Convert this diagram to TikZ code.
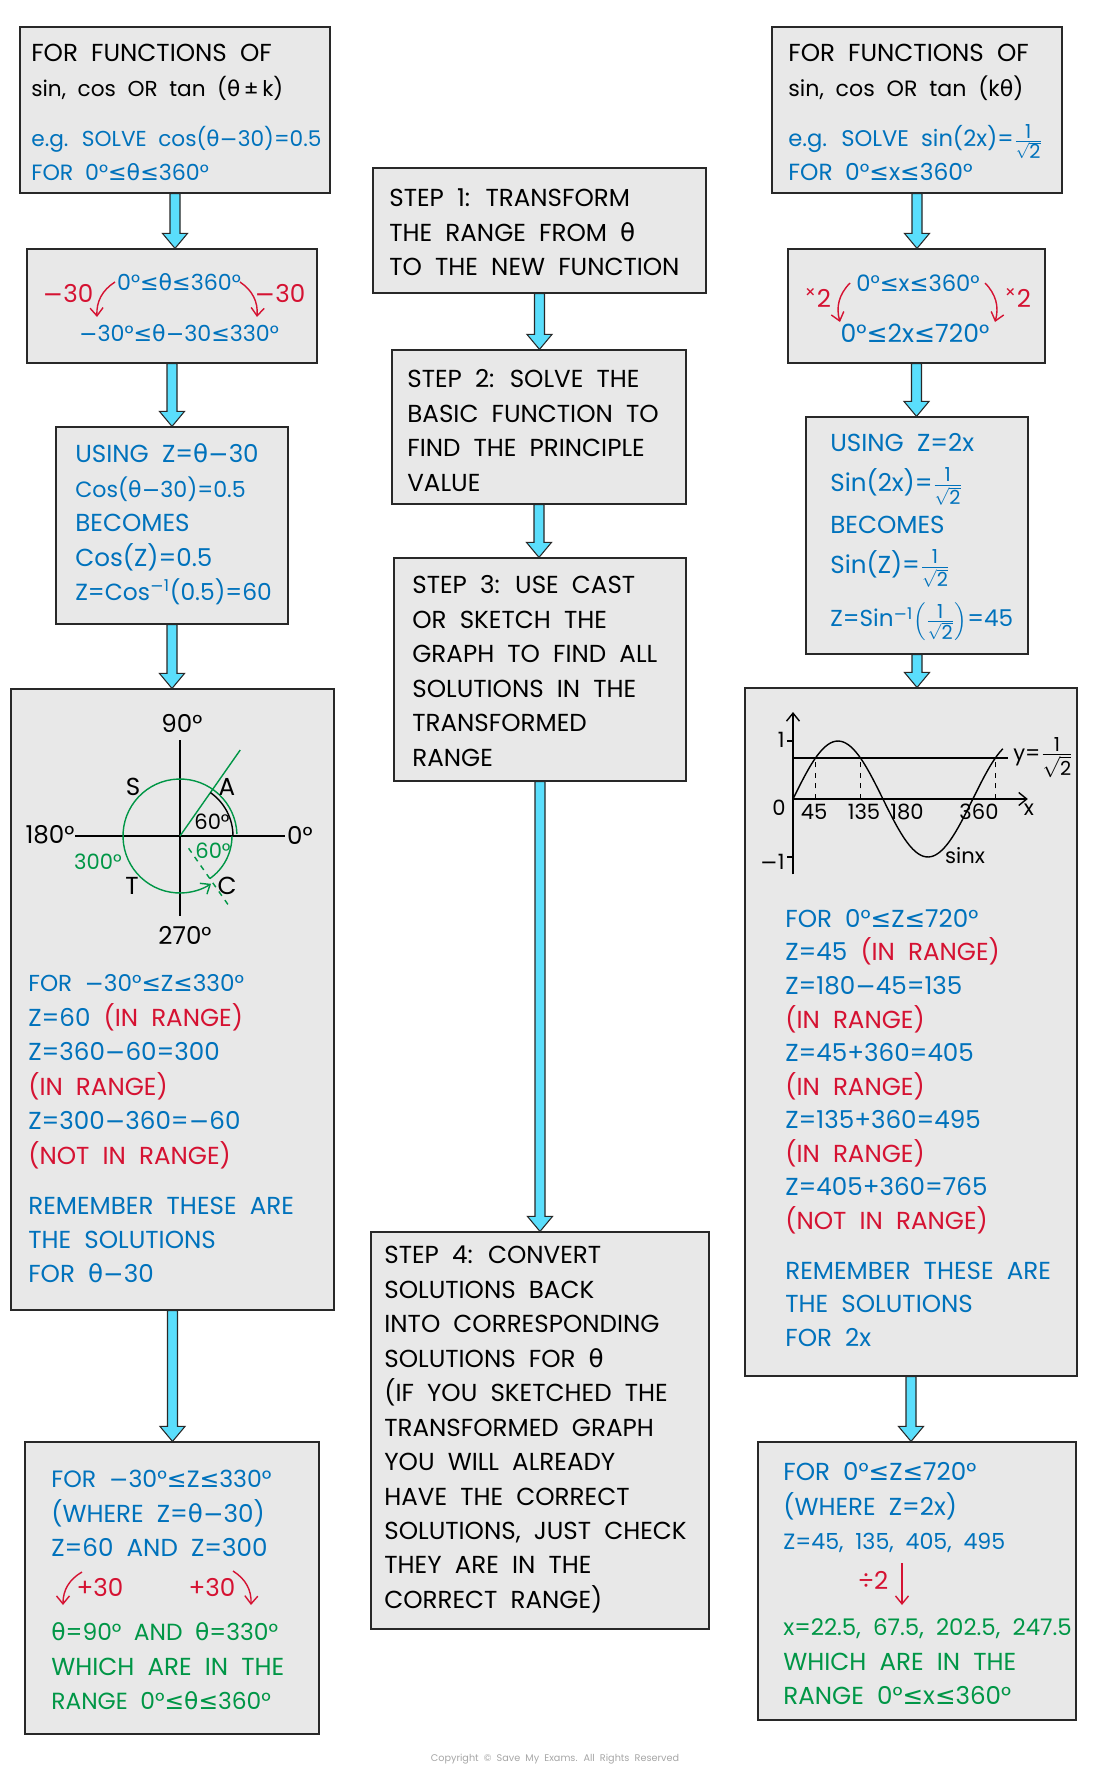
\documentclass[tikz,border=0pt]{standalone}
\usepackage{amsmath}
\usepackage{fontspec}
\setmainfont[WordSpace=2]{Poppins}
\newfontfamily\symfont{DejaVu Sans}
\usetikzlibrary{%
  arrows.meta,%
  calc,% wg. let
  positioning%
}

\definecolor{txtblue}{RGB}{0,114,188}
\definecolor{txtred}{RGB}{213,18,50}
\definecolor{txtgreen}{RGB}{0,150,70}
\definecolor{boxgray}{RGB}{232,232,232}
\definecolor{boxline}{RGB}{40,40,40}
\definecolor{arrowcyan}{RGB}{90,222,252}

\newcommand{\thet}{{\symfont θ}}
\newcommand{\lte}{{\symfont ≤}}
\newcommand{\mn}{{\symfont −}}
\newcommand{\fd}[1]{\text{\fontsize{11}{11}\selectfont #1}}
\newcommand{\rtwo}{$\tfrac{\fd{1}}{\sqrt{\fd{2}}}$}
\newcommand{\rd}[1]{\textcolor{txtred}{#1}}
\newcommand{\bl}[1]{\textcolor{txtblue}{#1}}
% narrower line: smaller size, same baseline skip
\newcommand{\cq}[2][0.9]{{\fontsize{\fpeval{14*#1}}{19.6}\selectfont #2}}

% fat cyan arrow from box to box
\newcommand{\flowarrow}[2]{%
  \draw[fatarrow] let \p1=(#1.south), \p2=(#2.north) in
    (\x1-0.1cm,\y1) -- (\x1-0.1cm,\y2+0.3cm) -- (\x1-0.25cm,\y2+0.3cm) -- (\x1,\y2)
    -- (\x1+0.25cm,\y2+0.3cm) -- (\x1+0.1cm,\y2+0.3cm) -- (\x1+0.1cm,\y1) -- cycle;}

\begin{document}
\begin{tikzpicture}
[x=0.02cm, y=-0.02cm,
panel/.style={draw=boxline, fill=boxgray, line width=0.7pt, inner sep=0pt},
txt/.style={anchor=north west, inner sep=0pt, align=left, font={\fontsize{14}{19.6}\selectfont\lineskiplimit=-30pt}},
lbl/.style={inner sep=0pt, font=\fontsize{14}{16}\selectfont},
smalllbl/.style={inner sep=0pt, font=\fontsize{12}{14}\selectfont},
fatarrow/.style={draw=boxline, fill=arrowcyan, line width=0.6pt, line join=miter},
redarrow/.style={draw=txtred, line width=0.8pt, -{Straight Barb[length=1.6mm,width=2.6mm]}},
greenline/.style={draw=txtgreen, line width=0.8pt},
axisline/.style={draw=black, line width=0.8pt}]

\fill[white] (0,0) rectangle (1100,1784);
\useasboundingbox (0,0) rectangle (1100,1784);

% left column: theta +- k
\node[panel, minimum width=6.2cm, minimum height=3.32cm] (l1) at (175,110) {};
\node[txt, text=black] (l1txt) at (31,37.5) {\strut FOR FUNCTIONS OF\\ \cq[0.88]{sin, cos OR tan (\thet\,±\,k)}\\[0.31cm]
  \bl{\cq[0.88]{e.g. SOLVE cos(\thet\mn30)=0.5}}\\ \bl{\cq{FOR 0°\lte\thet\lte360°}}};

\node[panel, minimum width=5.8cm, minimum height=2.28cm] (l2) at (172,306) {};
\node[lbl, text=txtblue] (l2top) at (179,282) {\cq[0.9]{0°\lte\thet\lte360°}};
\node[lbl, text=txtblue] (l2bot) at (179,333) {\cq[0.9]{\mn30°\lte\thet\mn30\lte330°}};
\node[lbl, text=txtred] (l2left) at (68,293) {\mn30};
\node[lbl, text=txtred] (l2right) at (280,293) {\mn30};
\coordinate (l2a) at (115,282); \coordinate (l2b) at (97,317);
\coordinate (l2c) at (240,282); \coordinate (l2d) at (257,317);
\draw[redarrow] (l2a) to[bend right=30] (l2b);
\draw[redarrow] (l2c) to[bend left=30] (l2d);

\node[panel, minimum width=4.64cm, minimum height=3.94cm] (l3) at (172,525.5) {};
\node[txt, text=txtblue] (l3txt) at (75,438.5) {\strut USING Z=\thet\mn30\\ \cq[0.9]{Cos(\thet\mn30)=0.5}\\ BECOMES\\
  Cos(Z)=0.5\\ \cq[0.95]{Z=Cos\textsuperscript{\mn1}(0.5)=60}};

\node[panel, minimum width=6.46cm, minimum height=12.42cm] (l4) at (172.5,999.5) {};
\begin{scope}[shift={(180,836)}]
  \draw[axisline] (-2.1cm,0) -- (2.1cm,0);
  \draw[axisline] (0,1.92cm) -- (0,-1.6cm);
  \draw[greenline, -{Straight Barb[length=1.6mm,width=2.6mm]}] (2:1.14cm) arc[start angle=2, end angle=303, radius=1.14cm];
  \draw[greenline] (0,0) -- (55:2.1cm);
  \draw[greenline, dashed] (-55:0.3cm) -- (-55:1.7cm);
  \draw[axisline] (0:1.06cm) arc[start angle=0, end angle=55, radius=1.06cm];
  \draw[greenline] (0:1.04cm) arc[start angle=0, end angle=-55, radius=1.04cm];
\end{scope}
\node[lbl] (deg90) at (182,723) {90°};
\node[lbl] (deg180) at (50,835) {180°};
\node[lbl] (deg0) at (300,835) {0°};
\node[lbl] (deg270) at (185,935) {270°};
\node[lbl] (qs) at (133,787) {S};
\node[lbl] (qa) at (227,787) {A};
\node[lbl] (qt) at (132,886) {T};
\node[lbl] (qc) at (227,886) {C};
\node[smalllbl] (ang1) at (212,822) {60°};
\node[smalllbl, text=txtgreen] (ang2) at (213,851) {60°};
\node[smalllbl, text=txtgreen] (ang300) at (98,862) {300°};
\node[txt, text=txtblue] (l4txt) at (28,967.5) {\strut \cq[0.94]{FOR \mn30°\lte Z\lte330°}\\ Z=60 \rd{(IN RANGE)}\\ Z=360\mn60=300\\
  \rd{(IN RANGE)}\\ Z=300\mn360=\mn60\\ \rd{(NOT IN RANGE)}\\[0.31cm] REMEMBER THESE ARE\\ THE SOLUTIONS\\ FOR \thet\mn30};

\node[panel, minimum width=5.88cm, minimum height=5.84cm] (l5) at (172,1588) {};
\node[txt, text=txtblue] (l5top) at (51,1463.5) {\strut \cq[0.96]{FOR \mn30°\lte Z\lte330°}\\ (WHERE Z=\thet\mn30)\\ Z=60 AND Z=300};
\node[lbl, text=txtred] (l5p1) at (100,1587) {+30};
\node[lbl, text=txtred] (l5p2) at (212,1587) {+30};
\coordinate (l5a) at (82,1572); \coordinate (l5b) at (63,1605);
\coordinate (l5c) at (233,1571); \coordinate (l5d) at (251,1605);
\draw[redarrow] (l5a) to[bend right=30] (l5b);
\draw[redarrow] (l5c) to[bend left=30] (l5d);
\node[txt, text=txtgreen] (l5bot) at (51,1616.5) {\strut \cq[0.95]{\thet=90° AND \thet=330°}\\ WHICH ARE IN THE\\ \cq[0.95]{RANGE 0°\lte\thet\lte360°}};

% middle column: steps
\node[panel, minimum width=6.66cm, minimum height=2.5cm] (m1) at (539.5,230.5) {};
\node[txt] (m1txt) at (389,182.5) {\strut STEP 1: TRANSFORM\\ THE RANGE FROM \thet\\ TO THE NEW FUNCTION};
\node[panel, minimum width=5.88cm, minimum height=3.08cm] (m2) at (539,427) {};
\node[txt] (m2txt) at (407,363.5) {\strut STEP 2: SOLVE THE\\ BASIC FUNCTION TO\\ FIND THE PRINCIPLE\\ VALUE};
\node[panel, minimum width=5.84cm, minimum height=4.46cm] (m3) at (540,669.5) {};
\node[txt] (m3txt) at (412,569.5) {\strut STEP 3: USE CAST\\ OR SKETCH THE\\ GRAPH TO FIND ALL\\ SOLUTIONS IN THE\\ TRANSFORMED\\ RANGE};
\node[panel, minimum width=6.76cm, minimum height=7.94cm] (m4) at (540,1430.5) {};
\node[txt] (m4txt) at (384,1239.5) {\strut STEP 4: CONVERT\\ SOLUTIONS BACK\\ INTO CORRESPONDING\\ SOLUTIONS FOR \thet\\
  (IF YOU SKETCHED THE\\ TRANSFORMED GRAPH\\ YOU WILL ALREADY\\ HAVE THE CORRECT\\ SOLUTIONS, JUST CHECK\\
  THEY ARE IN THE\\ CORRECT RANGE)};

% right column: k theta
\node[panel, minimum width=5.8cm, minimum height=3.32cm] (r1) at (917,110) {};
\node[txt, text=black] (r1txt) at (788,37.5) {\strut FOR FUNCTIONS OF\\ \cq[0.9]{sin, cos OR tan (k\thet)}\\[0.31cm]
  \bl{\cq[0.92]{e.g. SOLVE sin(2x)=\rtwo}}\\ \bl{\cq[0.95]{FOR 0°\lte x\lte360°}}};

\node[panel, minimum width=5.14cm, minimum height=2.28cm] (r2) at (916.5,306) {};
\node[lbl, text=txtblue] (r2top) at (918,283) {\cq[0.92]{0°\lte x\lte360°}};
\node[lbl, text=txtblue] (r2bot) at (915,333) {\cq[1.02]{0°\lte2x\lte720°}};
\node[lbl, text=txtred] (r2left) at (818,298) {\textsuperscript{×}2};
\node[lbl, text=txtred] (r2right) at (1018,298) {\textsuperscript{×}2};
\coordinate (r2a) at (850,283); \coordinate (r2b) at (840,322);
\coordinate (r2c) at (985,283); \coordinate (r2d) at (995,322);
\draw[redarrow] (r2a) to[bend right=30] (r2b);
\draw[redarrow] (r2c) to[bend left=30] (r2d);

\node[panel, minimum width=4.44cm, minimum height=4.74cm] (r3) at (917,535.5) {};
\node[txt, text=txtblue] (r3txt) at (830,427.5) {\strut USING Z=2x\\[0.11cm] Sin(2x)=\rtwo\\[0.15cm] BECOMES\\[0.11cm]
  Sin(Z)=\rtwo\\[0.37cm] \cq[0.94]{Z=Sin\textsuperscript{\mn1}$\left(\tfrac{\fd{1}}{\sqrt{\fd{2}}}\right)$=45}};

\node[panel, minimum width=6.64cm, minimum height=13.76cm] (r4) at (911,1032) {};
\begin{scope}[shift={(793,799)}, x=0.01cm, y=1.16cm]
  \draw[axisline, -{Straight Barb[length=1.6mm,width=2.6mm]}] (0,-1.3) -- (0,1.5);
  \draw[axisline, -{Straight Barb[length=1.6mm,width=2.6mm]}] (0,0) -- (470,0);
  \draw[axisline] (0,1) -- (-12,1);
  \draw[axisline] (0,-1) -- (-12,-1);
  \draw[axisline] (0,0.7071) -- (430,0.7071);
  \draw[axisline] plot[domain=0:420, samples=80, smooth] (\x,{sin(\x)});
  \foreach \a in {45,135,405}
    \draw[dashed, line width=0.6pt] (\a,0) -- (\a,0.7071);
\end{scope}
\node[smalllbl, anchor=east] (gone) at (785,740) {1};
\node[smalllbl, anchor=east] (gzero) at (786,808) {0};
\node[smalllbl, anchor=east] (gmone) at (785,862) {\mn1};
\node[smalllbl] (g45) at (814,812) {45};
\node[smalllbl] (g135) at (864,812) {135};
\node[smalllbl] (g180) at (907,812) {180};
\node[smalllbl] (g360) at (979,812) {360};
\node[smalllbl] (gx) at (1029,810) {x};
\node[smalllbl] (gsin) at (965,856) {sinx};
\node[smalllbl, anchor=west] (gline) at (1013,758) {y=\rtwo};
\node[txt, text=txtblue, font={\fontsize{14}{19.1}\selectfont\lineskiplimit=-30pt}] (r4txt) at (785,903.5) {\strut FOR 0°\lte Z\lte720°\\ Z=45 \rd{(IN RANGE)}\\ Z=180\mn45=135\\ \rd{(IN RANGE)}\\
  Z=45+360=405\\ \rd{(IN RANGE)}\\ Z=135+360=495\\ \rd{(IN RANGE)}\\ Z=405+360=765\\ \rd{(NOT IN RANGE)}\\[0.33cm]
  REMEMBER THESE ARE\\ THE SOLUTIONS\\ FOR 2x};

\node[panel, minimum width=6.36cm, minimum height=5.56cm] (r5) at (917,1581) {};
\node[txt, text=txtblue] (r5top) at (783,1456.5) {\strut FOR 0°\lte Z\lte720°\\ (WHERE Z=2x)\\ \cq[0.9]{Z=45, 135, 405, 495}};
\node[lbl, text=txtred] (r5div) at (873,1580) {÷2};
\coordinate (r5a) at (902,1563); \coordinate (r5b) at (902,1605);
\draw[redarrow] (r5a) -- (r5b);
\node[txt, text=txtgreen] (r5bot) at (783,1611.5) {\strut \cq[0.93]{x=22.5, 67.5, 202.5, 247.5}\\ WHICH ARE IN THE\\ RANGE 0°\lte x\lte360°};

\node[font=\fontsize{5.5}{6}\selectfont, text=gray!70, inner sep=0pt] (copy) at (555,1759) {Copyright © Save My Exams. All Rights Reserved};

% connectors
\flowarrow{l1}{l2}
\flowarrow{l2}{l3}
\flowarrow{l3}{l4}
\flowarrow{l4}{l5}
\flowarrow{m1}{m2}
\flowarrow{m2}{m3}
\flowarrow{m3}{m4}
\flowarrow{r1}{r2}
\flowarrow{r2}{r3}
\flowarrow{r3}{r4}
\flowarrow{r4}{r5}
\end{tikzpicture}
\end{document}
